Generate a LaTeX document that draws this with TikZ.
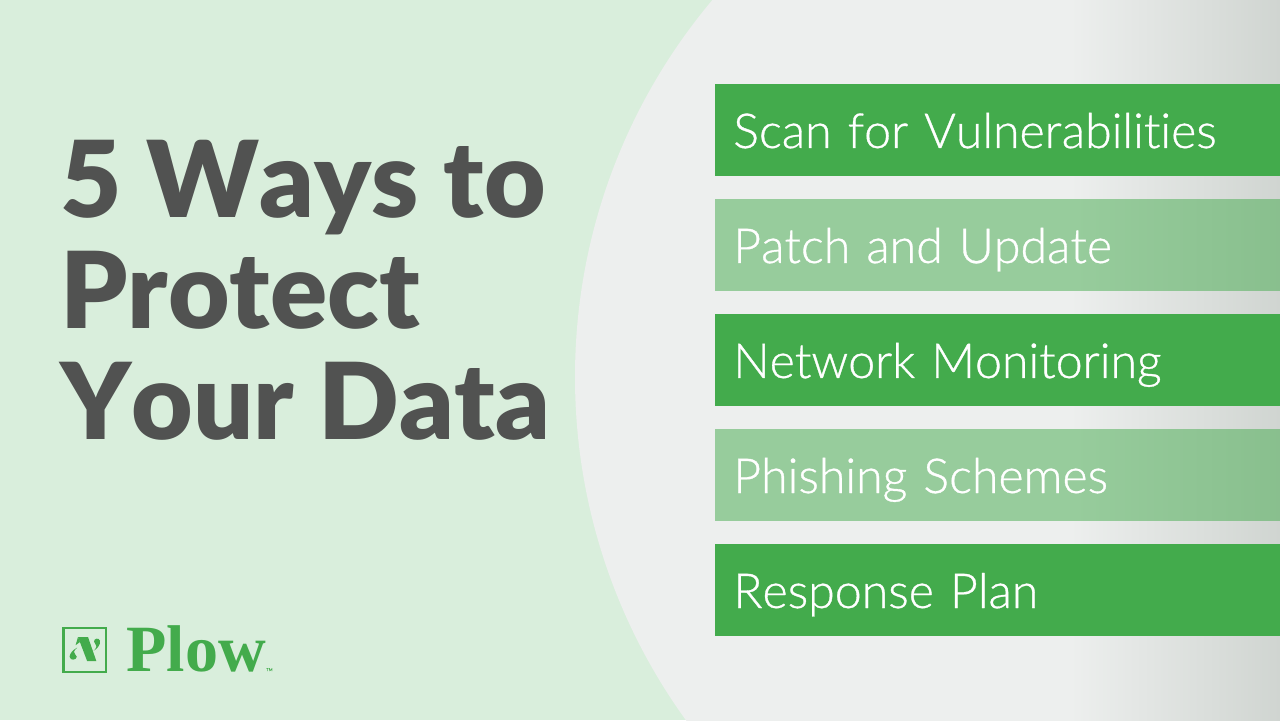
\documentclass[tikz,border=0pt]{standalone}
\usepackage{fontspec}
\setmainfont[Ligatures=NoCommon, Kerning=Off, FakeBold=0.7]{Lato Light}
\newfontfamily\headingfont[Ligatures=NoCommon, Kerning=Off]{Lato Black}
\newfontfamily\logofont{Liberation Serif}
\usetikzlibrary{positioning}
\definecolor{plowmint}{HTML}{D9EEDC}
\definecolor{plowgrey}{HTML}{EDEFEE}
\definecolor{plowshade}{HTML}{D0D5D1}
\definecolor{plowgreen}{HTML}{43AB4C}
\definecolor{plowtext}{HTML}{515251}
\tikzset{
	bar/.style={anchor=west, minimum width=14.125cm, minimum height=2.3cm, inner xsep=0.45cm, inner ysep=0pt, text width=13.225cm, text height=0.9cm, text depth=0pt, align=left, fill=plowgreen, text=white, font=\fontsize{34.3}{40}\selectfont},
	palebar/.style={bar, fill opacity=0.5, text opacity=1},
	title/.style={anchor=north west, inner sep=0pt, align=left, text=plowtext, font=\headingfont\fontsize{75.5}{79}\selectfont},
	logomark/.style={fill=plowgreen, draw=none}
}

\begin{document}
\begin{tikzpicture}

	\clip (0,0) rectangle (32,18);
	\fill [plowmint] (0,0) rectangle (32,18);
	\fill [plowgrey] (29.025,8.575) circle (14.65);
	\shade [left color=plowgrey, right color=plowshade, draw=none] (26.75,0) rectangle (32,18);

	\node (heading) [title] at (1.5,14.5) {5 Ways to\\Protect\\Your Data};

	\node (scan) [bar] at (17.875,14.75) {Scan for Vulnerabilities};
	\node (patch) [palebar] at (17.875,11.875) {Patch and Update};
	\node (monitoring) [bar] at (17.875,9) {Network Monitoring};
	\node (phishing) [palebar] at (17.875,6.125) {Phishing Schemes};
	\node (response) [bar] at (17.875,3.25) {Response Plan};

	% logo
	\draw [plowgreen, line width=0.06cm] (1.59,1.2) rectangle (2.645,2.295);
	\fill [logomark] (1.95,2.075) -- (2.2,2.075) -- (2.41,1.47) -- (2.18,1.47) -- cycle;
	\fill [logomark] (1.95,2.075) -- (2.0,1.95) -- (1.89,1.87) -- cycle;
	\fill [logomark] (1.93,1.81) .. controls (1.83,1.76) and (1.74,1.66) .. (1.74,1.58) .. controls (1.76,1.47) and (1.91,1.5) .. (1.92,1.58) .. controls (1.92,1.64) and (1.84,1.64) .. (1.85,1.7) .. controls (1.85,1.74) and (1.9,1.78) .. (1.93,1.81) -- cycle;
	\fill [logomark] (2.34,1.73) .. controls (2.44,1.78) and (2.52,1.9) .. (2.5,1.98) .. controls (2.47,2.07) and (2.35,2.04) .. (2.35,1.96) .. controls (2.35,1.9) and (2.42,1.9) .. (2.41,1.84) .. controls (2.41,1.8) and (2.37,1.76) .. (2.34,1.73) -- cycle;
	\node (wordmark) [anchor=base west, inner sep=0pt, text=plowgreen, font=\logofont\fontsize{47}{47}\selectfont\bfseries] at (3.15,1.22) {Plow};
	\node (trademark) [inner sep=0pt, text=plowgreen, font=\fontsize{3}{3}\selectfont, right=0pt of wordmark.base east, anchor=base west] {TM};

\end{tikzpicture}
\end{document}
